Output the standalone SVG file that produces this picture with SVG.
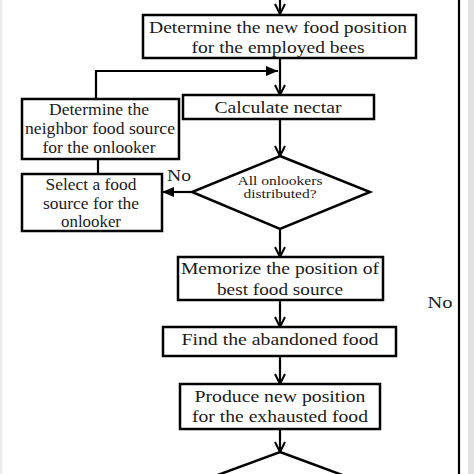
<svg xmlns="http://www.w3.org/2000/svg" width="474" height="474" viewBox="0 0 474 474">
<defs>
<style>
.box{fill:#fff;stroke:#000;stroke-width:2.5}
.ln{fill:none;stroke:#000;stroke-width:2.2}
.t{font-family:"Liberation Serif","Times New Roman",serif;font-size:17px;fill:#1a1a1a;text-anchor:middle}
.s{font-size:12px}
</style>
<marker id="v" viewBox="0 0 12 12" refX="11" refY="6" markerWidth="12" markerHeight="12" markerUnits="userSpaceOnUse" orient="auto">
<path d="M1,1 L11,6 L1,11" fill="none" stroke="#000" stroke-width="2"/>
</marker>
<marker id="f" viewBox="0 0 12 10" refX="12" refY="5" markerWidth="12" markerHeight="10" markerUnits="userSpaceOnUse" orient="auto">
<path d="M0,0 L12,5 L0,10 Z" fill="#000"/>
</marker>
</defs>
<rect x="0" y="0" width="474" height="474" fill="#fff"/>
<rect x="0" y="0" width="2.5" height="474" fill="#ececec"/>
<rect x="468" y="0" width="6" height="474" fill="#e2e2e2"/>
<g id="connectors">
<line class="ln" x1="280" y1="0" x2="280" y2="14" marker-end="url(#v)"/>
<line class="ln" x1="280" y1="58" x2="280" y2="95" marker-end="url(#v)"/>
<polyline class="ln" points="96,99 96,71 278,71" marker-end="url(#f)"/>
<line class="ln" x1="280" y1="119" x2="280" y2="156" marker-end="url(#v)"/>
<line class="ln" x1="98" y1="160" x2="98" y2="174"/>
<line class="ln" x1="192" y1="192" x2="162" y2="192" marker-end="url(#f)"/>
<line class="ln" x1="280" y1="229" x2="280" y2="257" marker-end="url(#v)"/>
<line class="ln" x1="280" y1="300" x2="280" y2="327" marker-end="url(#v)"/>
<line class="ln" x1="280" y1="356" x2="280" y2="384" marker-end="url(#v)"/>
<line class="ln" x1="280" y1="429" x2="280" y2="452" marker-end="url(#v)"/>
<line class="ln" x1="459" y1="0" x2="459" y2="474" stroke-width="2.5"/>
<text class="t" x="179" y="181" textLength="24" lengthAdjust="spacingAndGlyphs">No</text>
<text class="t" x="440" y="308" textLength="25" lengthAdjust="spacingAndGlyphs">No</text>
</g>
<g id="n1"><rect class="box" x="143" y="15" width="273" height="43"/>
<text class="t" x="278" y="33" textLength="258" lengthAdjust="spacingAndGlyphs">Determine the new food position</text>
<text class="t" x="278" y="53" textLength="173" lengthAdjust="spacingAndGlyphs">for the employed bees</text></g>
<g id="n2"><rect class="box" x="183" y="95" width="191" height="24"/>
<text class="t" x="278" y="113" textLength="127" lengthAdjust="spacingAndGlyphs">Calculate nectar</text></g>
<g id="n3"><rect class="box" x="22" y="99" width="157" height="60"/>
<text class="t" x="99" y="115" textLength="100" lengthAdjust="spacingAndGlyphs">Determine the</text>
<text class="t" x="100" y="134" textLength="150" lengthAdjust="spacingAndGlyphs">neighbor food source</text>
<text class="t" x="99" y="153" textLength="113" lengthAdjust="spacingAndGlyphs">for the onlooker</text></g>
<g id="n4"><rect class="box" x="22" y="174" width="140" height="57"/>
<text class="t" x="91" y="190" textLength="91" lengthAdjust="spacingAndGlyphs">Select a food</text>
<text class="t" x="91" y="209" textLength="96" lengthAdjust="spacingAndGlyphs">source for the</text>
<text class="t" x="91" y="227" textLength="60" lengthAdjust="spacingAndGlyphs">onlooker</text></g>
<g id="n5"><polygon class="box" points="280,156 370,192 280,229 192,192"/>
<text class="t s" x="280" y="185" textLength="85" lengthAdjust="spacingAndGlyphs">All onlookers</text>
<text class="t s" x="280" y="198" textLength="73" lengthAdjust="spacingAndGlyphs">distributed?</text></g>
<g id="n6"><rect class="box" x="178" y="257" width="205" height="43"/>
<text class="t" x="280" y="274" textLength="198" lengthAdjust="spacingAndGlyphs">Memorize the position of</text>
<text class="t" x="280" y="295" textLength="126" lengthAdjust="spacingAndGlyphs">best food source</text></g>
<g id="n7"><rect class="box" x="163" y="327" width="233" height="29"/>
<text class="t" x="280" y="345" textLength="197" lengthAdjust="spacingAndGlyphs">Find the abandoned food</text></g>
<g id="n8"><rect class="box" x="180" y="384" width="200" height="45"/>
<text class="t" x="280" y="402" textLength="171" lengthAdjust="spacingAndGlyphs">Produce new position</text>
<text class="t" x="280" y="422" textLength="176" lengthAdjust="spacingAndGlyphs">for the exhausted food</text></g>
<g id="n9"><polygon class="box" points="280,452 345,476 280,500 215,476"/></g>
</svg>
